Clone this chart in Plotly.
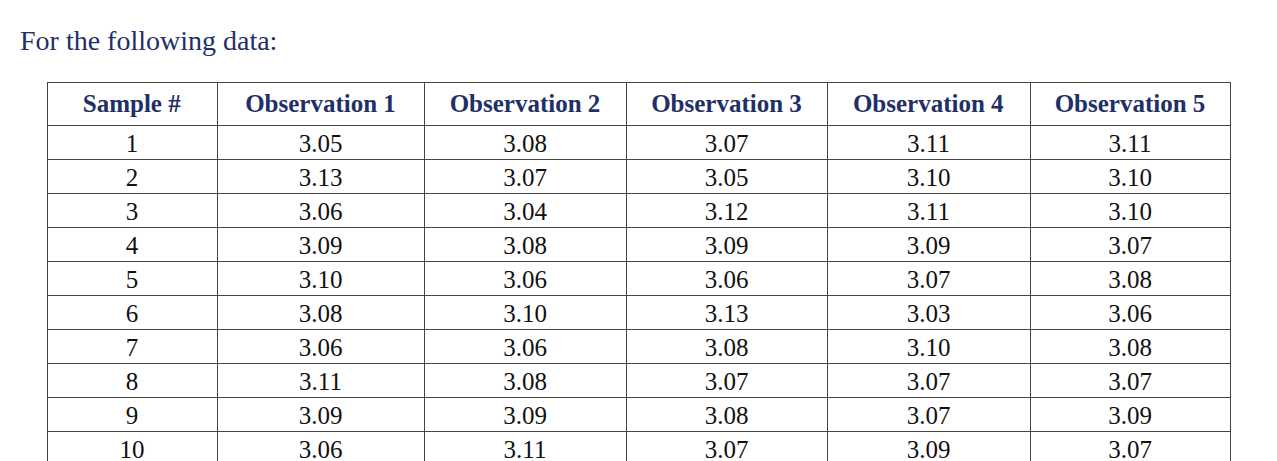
import plotly.graph_objects as go

headers = ["Sample #", "Observation 1", "Observation 2", "Observation 3", "Observation 4", "Observation 5"]
samples = ["1", "2", "3", "4", "5", "6", "7", "8", "9", "10"]
obs1 = ["3.05", "3.13", "3.06", "3.09", "3.10", "3.08", "3.06", "3.11", "3.09", "3.06"]
obs2 = ["3.08", "3.07", "3.04", "3.08", "3.06", "3.10", "3.06", "3.08", "3.09", "3.11"]
obs3 = ["3.07", "3.05", "3.12", "3.09", "3.06", "3.13", "3.08", "3.07", "3.08", "3.07"]
obs4 = ["3.11", "3.10", "3.11", "3.09", "3.07", "3.03", "3.10", "3.07", "3.07", "3.09"]
obs5 = ["3.11", "3.10", "3.10", "3.07", "3.08", "3.06", "3.08", "3.07", "3.09", "3.07"]

W, H = 1269, 453
OFF = 8  # page body margin
fig = go.Figure(go.Table(
    domain=dict(x=[(47 - OFF) / W, (1231 - OFF) / W], y=[0, 1 - (82 - OFF) / H]),
    columnwidth=[170, 207, 202, 201, 203, 200],
    header=dict(values=["<b>%s</b>" % h for h in headers],
                font=dict(family="Liberation Serif", size=25, color="#1f3068"),
                align="center", height=34,
                fill_color="white", line=dict(color="#444444", width=1)),
    cells=dict(values=[samples, obs1, obs2, obs3, obs4, obs5],
               font=dict(family="Liberation Serif", size=25, color="#111111"),
               align="center", height=34,
               fill_color="white", line=dict(color="#444444", width=1)),
))
fig.add_annotation(text="For the following data:", x=(18 - OFF) / W, y=1 - (40 - OFF) / H,
                   xref="paper", yref="paper", xanchor="left", yanchor="middle",
                   showarrow=False,
                   font=dict(family="Liberation Serif", size=28, color="#1f3068"))
fig.update_layout(width=W, height=H, margin=dict(l=0, r=0, t=0, b=0),
                  paper_bgcolor="white", plot_bgcolor="white")
fig.write_html("out.html")
